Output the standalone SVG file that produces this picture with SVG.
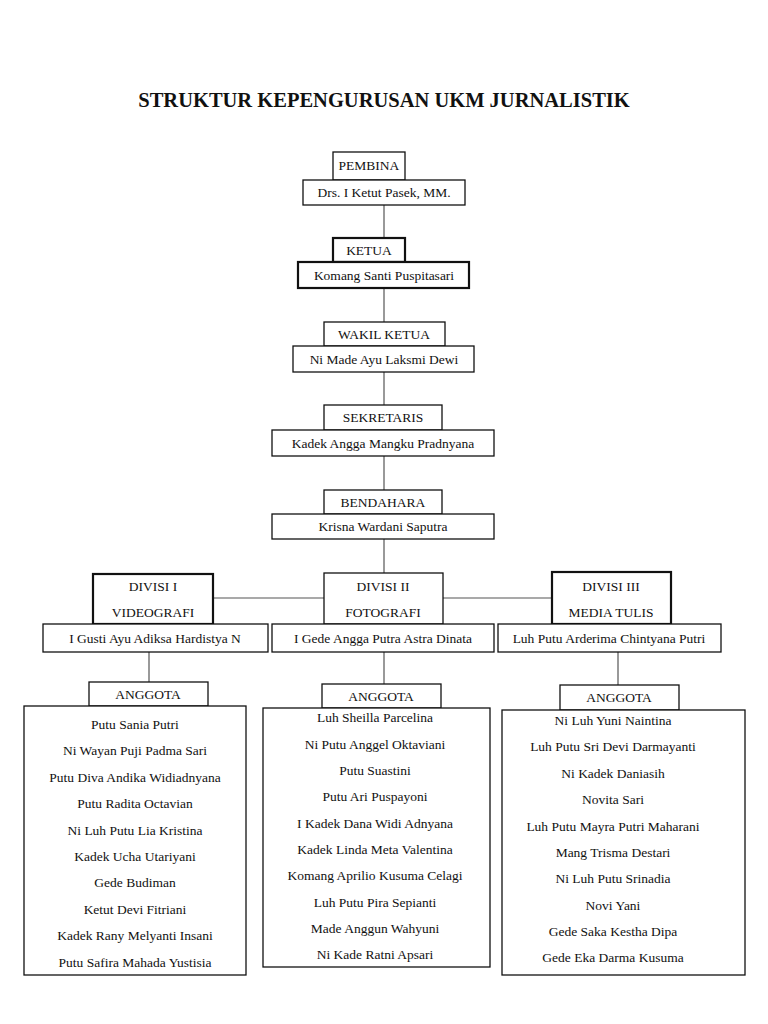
<svg xmlns="http://www.w3.org/2000/svg" width="768" height="1024" viewBox="0 0 768 1024" font-family="Liberation Serif, Times New Roman, serif">
<style>
rect{fill:#fff;stroke:#111;stroke-width:1.3}
rect.b{stroke-width:2.2}
text{font-family:'Liberation Serif','Times New Roman',serif;font-size:13.5px;fill:#111;text-anchor:middle}
.t{font-size:20.5px;font-weight:bold}
.c line{stroke:#555;stroke-width:1.2}
</style>
<rect x="0" y="0" width="768" height="1024" style="fill:#fff;stroke:none"/>
<text class="t" x="384" y="107">STRUKTUR KEPENGURUSAN UKM JURNALISTIK</text>
<g class="c">
<line x1="384" y1="205" x2="384" y2="573"/>
<line x1="213" y1="598" x2="552" y2="598"/>
<line x1="149" y1="652" x2="149" y2="682"/>
<line x1="384" y1="652" x2="384" y2="684"/>
<line x1="618" y1="652" x2="618" y2="685"/>
</g>
<g id="pembina"><rect x="333" y="152" width="72" height="28"/><text x="369" y="170">PEMBINA</text>
<rect x="303" y="180" width="162" height="25"/><text x="384" y="197">Drs. I Ketut Pasek, MM.</text></g>
<g id="ketua"><rect class="b" x="333" y="238" width="72" height="24"/><text x="369" y="255">KETUA</text>
<rect class="b" x="298" y="262" width="171" height="26"/><text x="384" y="280">Komang Santi Puspitasari</text></g>
<g id="wakil"><rect x="324" y="322" width="121" height="24"/><text x="384" y="339">WAKIL KETUA</text>
<rect x="293" y="346" width="181" height="26"/><text x="384" y="364">Ni Made Ayu Laksmi Dewi</text></g>
<g id="sekretaris"><rect x="324" y="405" width="118" height="25"/><text x="383" y="422">SEKRETARIS</text>
<rect x="272" y="430" width="222" height="26"/><text x="383" y="448">Kadek Angga Mangku Pradnyana</text></g>
<g id="bendahara"><rect x="324" y="490" width="118" height="24"/><text x="383" y="507">BENDAHARA</text>
<rect x="272" y="514" width="222" height="25"/><text x="383" y="531">Krisna Wardani Saputra</text></g>
<g id="divisi1"><rect class="b" x="93" y="574" width="120" height="50"/><text x="153" y="591">DIVISI I</text><text x="153" y="617">VIDEOGRAFI</text>
<rect x="43" y="624" width="225" height="28"/><text x="155" y="643">I Gusti Ayu Adiksa Hardistya N</text></g>
<g id="divisi2"><rect x="324" y="573" width="119" height="51"/><text x="383" y="591">DIVISI II</text><text x="383" y="617">FOTOGRAFI</text>
<rect x="272" y="624" width="222" height="28"/><text x="383" y="643">I Gede Angga Putra Astra Dinata</text></g>
<g id="divisi3"><rect class="b" x="552" y="572" width="119" height="52"/><text x="611" y="591">DIVISI III</text><text x="611" y="617">MEDIA TULIS</text>
<rect x="498" y="624" width="223" height="28"/><text x="609" y="643">Luh Putu Arderima Chintyana Putri</text></g>
<g id="anggota1"><rect x="89" y="682" width="119" height="24"/><text x="148" y="699">ANGGOTA</text>
<rect x="24" y="706" width="222" height="269"/>
<text x="135" y="729">Putu Sania Putri</text><text x="135" y="755">Ni Wayan Puji Padma Sari</text><text x="135" y="782">Putu Diva Andika Widiadnyana</text><text x="135" y="808">Putu Radita Octavian</text><text x="135" y="835">Ni Luh Putu Lia Kristina</text><text x="135" y="861">Kadek Ucha Utariyani</text><text x="135" y="887">Gede Budiman</text><text x="135" y="914">Ketut Devi Fitriani</text><text x="135" y="940">Kadek Rany Melyanti Insani</text><text x="135" y="967">Putu Safira Mahada Yustisia</text></g>
<g id="anggota2"><rect x="322" y="684" width="119" height="24"/><text x="381" y="701">ANGGOTA</text>
<rect x="263" y="708" width="227" height="259"/>
<text x="375" y="722">Luh Sheilla Parcelina</text><text x="375" y="749">Ni Putu Anggel Oktaviani</text><text x="375" y="775">Putu Suastini</text><text x="375" y="801">Putu Ari Puspayoni</text><text x="375" y="828">I Kadek Dana Widi Adnyana</text><text x="375" y="854">Kadek Linda Meta Valentina</text><text x="375" y="880">Komang Aprilio Kusuma Celagi</text><text x="375" y="907">Luh Putu Pira Sepianti</text><text x="375" y="933">Made Anggun Wahyuni</text><text x="375" y="959">Ni Kade Ratni Apsari</text></g>
<g id="anggota3"><rect x="560" y="685" width="119" height="25"/><text x="619" y="702">ANGGOTA</text>
<rect x="502" y="710" width="243" height="265"/>
<text x="613" y="725">Ni Luh Yuni Naintina</text><text x="613" y="751">Luh Putu Sri Devi Darmayanti</text><text x="613" y="778">Ni Kadek Daniasih</text><text x="613" y="804">Novita Sari</text><text x="613" y="831">Luh Putu Mayra Putri Maharani</text><text x="613" y="857">Mang Trisma Destari</text><text x="613" y="883">Ni Luh Putu Srinadia</text><text x="613" y="910">Novi Yani</text><text x="613" y="936">Gede Saka Kestha Dipa</text><text x="613" y="962">Gede Eka Darma Kusuma</text></g>
</svg>
